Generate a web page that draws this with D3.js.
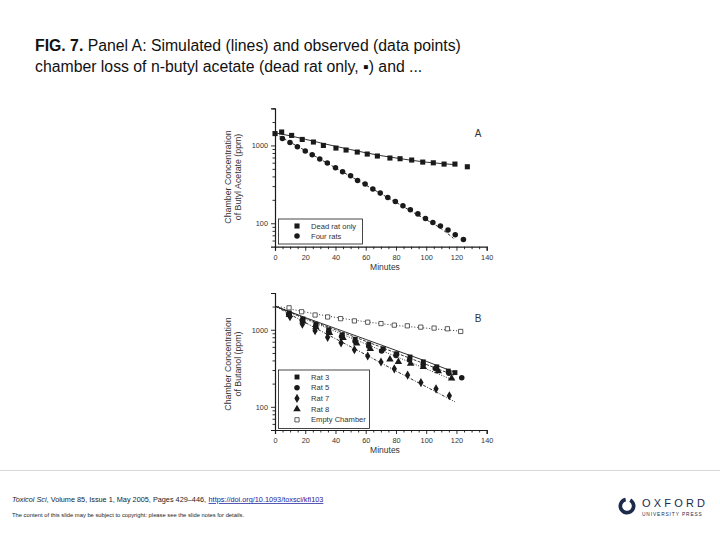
<!DOCTYPE html>
<html>
<head>
<meta charset="utf-8">
<script src="https://cdn.jsdelivr.net/npm/d3@7"></script>
<style>
  body { margin: 0; background: #fff; }
  svg { display: block; font-family: "Liberation Sans", Arial, sans-serif; }
</style>
</head>
<body>
<div id="chart"></div>
<script>
// panel A: n-butyl acetate, observed points [minutes, ppm]
const deadRatObs = [[0,1420],[4.4,1487],[11,1345],[18,1194],[25.4,1106],[32,1000],[40.3,925],[47,873],[54.4,822],[61,775],[67.7,731],[76,689],[82.7,675],[90.4,649],[97.7,611],[104.7,598],[111.8,576],[119,576],[127.2,532]];
const fourRatsObs = [[4.9,1230],[9.9,1093],[14.8,962],[20,847],[24.6,759],[29.6,668],[34.6,593],[40,516],[44.7,458],[50,407],[54.6,355],[59.6,319],[64.7,275],[69.6,244],[74.6,214],[79.6,190],[84.6,168],[89.5,149],[94.5,132],[99.5,115],[104.4,102],[109.4,92],[114.4,82],[119.2,71],[124.6,62]];
// panel A: simulated
const deadRatSim = [[0,1450],[10,1330],[20,1200],[30,1080],[40,975],[50,885],[60,805],[70,740],[80,690],[90,645],[100,610],[110,585],[118,568]];
const fourRatsSim = [[0,1420],[10,1100],[20,860],[30,665],[40,515],[50,400],[60,310],[70,240],[80,186],[90,143],[100,111],[110,85],[118,64]];

// panel B: butanol, observed
const rat3Obs = [[9.5,1650],[18.5,1380],[27,1180],[35.5,1000],[44.5,860],[53,750],[62,650],[71.6,567],[80.5,489],[89.3,443],[98.1,383],[107,330],[114.6,291],[119,278]];
const rat5Obs = [[9,1600],[18,1330],[27,1120],[35.5,940],[44,815],[53,705],[62,610],[70.5,530],[80,465],[89,405],[98,355],[106,315],[115,272],[123.5,238]];
const rat7Obs = [[9.9,1479],[18.1,1183],[26.5,971],[34.8,797],[43.7,676],[52.5,550],[61.3,456],[70.1,382],[78.9,311],[87.7,258],[96.5,206],[106.5,171],[115.3,139]];
const rat8Obs = [[9.5,1560],[18.5,1290],[27,1080],[36,910],[45,785],[54,665],[63,565],[76,414],[81.6,383],[89.7,365],[98.1,330],[108,291],[116.8,234]];
const emptyObs = [[9.3,1927],[17.6,1713],[26.5,1555],[34.8,1466],[43.4,1394],[52.5,1303],[61.3,1254],[70.1,1203],[78.9,1148],[87.5,1125],[96.4,1082],[105.2,1051],[114,1030],[122.8,951]];
// panel B: simulated
const rat3Sim = [[0,2030],[20,1440],[40,1040],[60,750],[80,540],[100,390],[118,285]];
const rat5Sim = [[0,2030],[20,1410],[40,1000],[60,710],[80,500],[100,355],[118,258]];
const rat8Sim = [[0,2030],[20,1380],[40,950],[60,655],[80,450],[100,310],[118,222]];
const rat7Sim = [[0,2030],[20,1240],[40,765],[60,475],[80,292],[100,182],[119,116]];
const emptySim = [[0,2050],[20,1700],[40,1450],[60,1270],[80,1140],[100,1050],[123,960]];

const xTicks = [0,20,40,60,80,100,120,140];
const yTicks = [100,1000];

const W = 720, H = 540;
const svg = d3.select("#chart").append("svg")
  .attr("width", W).attr("height", H);
svg.append("rect").attr("width", W).attr("height", H).attr("fill", "#fff");

const ink = "#1a1a1a";

function drawPanel(cfg) {
  const x = d3.scaleLinear().domain([0,140]).range([275, 486.7]);
  const y = d3.scaleLog().domain([50,3000]).range([cfg.bottom, cfg.top]);
  const g = svg.append("g");

  // x axis
  const xAxis = g.append("g").attr("transform", `translate(0,${cfg.bottom})`)
    .call(d3.axisBottom(x).tickValues(xTicks).tickSize(4).tickFormat(d3.format("d")));
  g.append("g").attr("transform", `translate(0,${cfg.bottom})`)
    .call(d3.axisBottom(x).tickValues(d3.range(5,140,5).filter(d => d % 20)).tickSize(2.5).tickFormat(""))
    .call(s => s.select(".domain").remove());
  // y axis
  const yAxis = g.append("g").attr("transform", "translate(275,0)")
    .call(d3.axisLeft(y).tickValues(yTicks).tickSize(4).tickFormat(d3.format("d")));
  const minor = [60,70,80,90,200,300,400,500,600,700,800,900,2000,3000];
  g.append("g").attr("transform", "translate(275,0)")
    .call(d3.axisLeft(y).tickValues(minor).tickSize(2.5).tickFormat(""))
    .call(s => s.select(".domain").remove());
  g.selectAll(".domain").attr("stroke", ink).attr("stroke-width", 1.2);
  g.selectAll(".tick line").attr("stroke", ink).attr("stroke-width", 0.9);
  xAxis.selectAll("text").attr("font-size", 7.3).attr("fill", "#333").attr("dy", "0.85em");
  yAxis.selectAll("text").attr("font-size", 7.3).attr("fill", "#333");
  g.selectAll(".tick text").attr("font-family", "Liberation Sans, Arial, sans-serif");

  // axis titles
  g.append("text").attr("x", 385).attr("y", cfg.bottom + 23)
    .attr("text-anchor", "middle").attr("font-size", 8.5).attr("fill", "#333").text("Minutes");
  const yt = g.append("text").attr("transform", `translate(231,${cfg.titleY}) rotate(-90)`)
    .attr("text-anchor", "middle").attr("font-size", 8.8).attr("fill", "#333");
  yt.append("tspan").attr("x", 0).attr("dy", 0).text("Chamber Concentration");
  yt.append("tspan").attr("x", 0).attr("dy", 10).text(cfg.yTitle2);

  // panel letter
  g.append("text").attr("x", 478).attr("y", cfg.top + 29).attr("text-anchor", "middle")
    .attr("font-size", 10).attr("fill", "#333").text(cfg.letter);

  // simulated lines
  const line = d3.line().x(d => x(d[0])).y(d => y(d[1])).curve(d3.curveMonotoneX);
  cfg.sims.forEach(s => {
    g.append("path").attr("d", line(s.data)).attr("fill", "none")
      .attr("stroke", ink).attr("stroke-width", 0.9)
      .attr("stroke-dasharray", s.dash || null);
  });

  // observed points
  cfg.series.forEach(s => {
    g.append("g").selectAll("path").data(s.data).join("path")
      .attr("transform", d => `translate(${x(d[0])},${y(d[1])})`)
      .attr("d", d3.symbol().type(s.symbol).size(s.size))
      .attr("fill", s.open ? "#fff" : ink)
      .attr("stroke", s.open ? ink : "none").attr("stroke-width", 0.7);
  });

  // legend
  const lg = g.append("g");
  lg.append("rect").attr("x", 278.5).attr("y", cfg.legTop)
    .attr("width", cfg.legW).attr("height", cfg.series.length * cfg.legStep + 5)
    .attr("fill", "#fff").attr("stroke", ink).attr("stroke-width", 0.8);
  cfg.series.forEach((s, i) => {
    const ly = cfg.legTop + 7 + i * cfg.legStep;
    lg.append("path").attr("transform", `translate(297,${ly})`)
      .attr("d", d3.symbol().type(s.symbol).size(s.size))
      .attr("fill", s.open ? "#fff" : ink)
      .attr("stroke", s.open ? ink : "none").attr("stroke-width", 0.7);
    lg.append("text").attr("x", 311).attr("y", ly).attr("dy", "0.35em")
      .attr("font-size", 7.6).attr("fill", "#333").text(s.name);
  });
}

drawPanel({
  top: 108.3, bottom: 246.7, letter: "A", titleY: 177, yTitle2: "of Butyl Acetate (ppm)",
  legTop: 219, legW: 84, legStep: 10,
  sims: [{data: deadRatSim}, {data: fourRatsSim, dash: "3,2"}],
  series: [
    {name: "Dead rat only", data: deadRatObs, symbol: d3.symbolSquare, size: 26},
    {name: "Four rats", data: fourRatsObs, symbol: d3.symbolCircle, size: 24}
  ]
});

drawPanel({
  top: 293, bottom: 430, letter: "B", titleY: 364, yTitle2: "of Butanol (ppm)",
  legTop: 370, legW: 91, legStep: 10.7,
  sims: [
    {data: emptySim, dash: "1,2"},
    {data: rat3Sim},
    {data: rat5Sim, dash: "3,1.5"},
    {data: rat8Sim, dash: "1,1.5"},
    {data: rat7Sim, dash: "3,1.5,1,1.5"}
  ],
  series: [
    {name: "Rat 3", data: rat3Obs, symbol: d3.symbolSquare, size: 24},
    {name: "Rat 5", data: rat5Obs, symbol: d3.symbolCircle, size: 24},
    {name: "Rat 7", data: rat7Obs, symbol: d3.symbolDiamond, size: 24},
    {name: "Rat 8", data: rat8Obs, symbol: d3.symbolTriangle, size: 24},
    {name: "Empty Chamber", data: emptyObs, symbol: d3.symbolSquare, size: 18, open: true}
  ]
});

// caption
const cap = svg.append("text").attr("x", 35).attr("y", 51).attr("font-size", 15.8).attr("fill", "#111");
cap.append("tspan").attr("font-weight", "bold").text("FIG. 7.");
cap.append("tspan").text(" Panel A: Simulated (lines) and observed (data points)");
svg.append("text").attr("x", 35).attr("y", 72).attr("font-size", 15.8).attr("fill", "#111")
  .text("chamber loss of n-butyl acetate (dead rat only, \u25AA) and ...");

// separator and footer
svg.append("line").attr("x1", 0).attr("x2", 720).attr("y1", 470.5).attr("y2", 470.5)
  .attr("stroke", "#d8d8d8").attr("stroke-width", 1);

// footer citation, pieces laid side by side
const footParts = [
  {text: "Toxicol Sci", italic: true},
  {text: ", Volume 85, Issue 1, May 2005, Pages 429\u2013446,", gap: 2.5},
  {text: "https://doi.org/10.1093/toxsci/kfi103", link: true}
];
let fx = 12;
footParts.forEach(p => {
  const t = svg.append("text").attr("x", fx).attr("y", 502).attr("font-size", 7.3)
    .attr("fill", p.link ? "#1a1a9c" : "#222")
    .attr("font-style", p.italic ? "italic" : null)
    .attr("text-decoration", p.link ? "underline" : null)
    .text(p.text);
  fx += t.node().getComputedTextLength() + (p.gap || 0);
});
svg.append("text").attr("x", 12).attr("y", 517).attr("font-size", 5.8).attr("fill", "#222")
  .text("The content of this slide may be subject to copyright: please see the slide notes for details.");

// Oxford logo
const logo = svg.append("g").attr("fill", "#1c2b4c");
logo.append("path").attr("transform", "translate(627,506)")
  .attr("d", d3.arc().innerRadius(4.8).outerRadius(8.5).startAngle(0.5).endAngle(2 * Math.PI - 0.2)())
  .attr("fill", "#1c2b4c");
logo.append("text").attr("x", 642).attr("y", 507).attr("font-size", 11)
  .attr("letter-spacing", 3.2).text("OXFORD");
logo.append("text").attr("x", 642).attr("y", 515.5).attr("font-size", 4.8)
  .attr("letter-spacing", 0.9).text("UNIVERSITY PRESS");
</script>
</body>
</html>
